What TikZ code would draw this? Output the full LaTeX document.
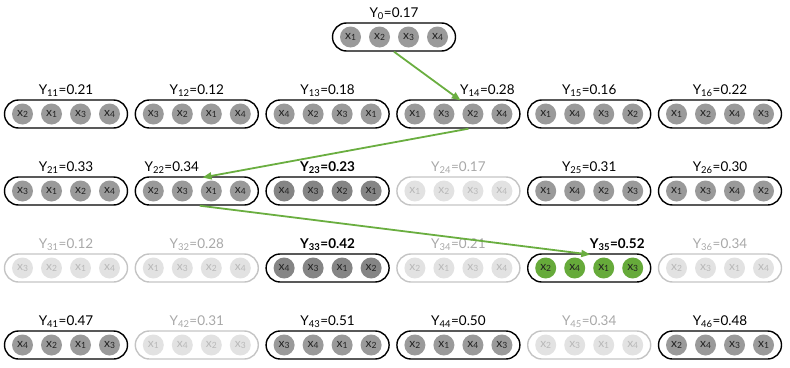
\documentclass[tikz,border=0pt]{standalone}
\usepackage{fontspec}
\setmainfont{Lato}
\usepackage{xcolor}
\usetikzlibrary{arrows.meta,positioning}

\definecolor{beaddark}{HTML}{9A9A9A}
\definecolor{beadstrong}{HTML}{858585}
\definecolor{beadfade}{HTML}{E2E2E2}
\definecolor{beadgreen}{HTML}{66AA3A}
\definecolor{inkdark}{HTML}{222222}
\definecolor{inkfade}{HTML}{B8B8B8}
\definecolor{shellfade}{HTML}{C4C4C4}
\definecolor{tagfade}{HTML}{A8A8A8}
\definecolor{jumpgreen}{HTML}{6AAE40}

\newcommand\beadtext[1]{x\raisebox{-0.2ex}{\fontsize{8.5}{9}\selectfont#1}}

\begin{document}
\begin{tikzpicture}[x=1pt,y=-1pt,
    every node/.style={font=\fontsize{13.5}{15}\selectfont},
    shell/.style={draw,rounded corners=14pt,minimum width=123pt,
      minimum height=28pt,line width=1.4pt,inner sep=0pt},
    bead/.style={circle,minimum size=21pt,inner sep=0pt,
      font=\fontsize{12}{12}\selectfont},
    shell d/.style={shell,draw=black},
    bead d/.style={bead,fill=beaddark,text=inkdark},
    tag d/.style={text=black},
    shell f/.style={shell,draw=shellfade},
    bead f/.style={bead,fill=beadfade,text=inkfade},
    tag f/.style={text=tagfade},
    shell s/.style={shell,draw=black},
    bead s/.style={bead,fill=beadstrong,text=inkdark},
    tag s/.style={font=\fontsize{13.5}{15}\selectfont\bfseries},
    shell g/.style={shell,draw=black},
    bead g/.style={bead,fill=beadgreen,text=inkdark},
    tag g/.style={font=\fontsize{13.5}{15}\selectfont\bfseries},
    jump/.style={draw=jumpgreen,line width=1.8pt,
      -{Triangle[length=9pt,width=7pt]}}]
  \useasboundingbox (0,0) rectangle (790,367);

  % ---------------- root ----------------
  \node[shell d] (cap0) at (394,37) {};
  \node[tag d] (lab0) at (394,14) {Y\textsubscript{0}=0.17};
  \foreach \k [count=\j] in {1,2,3,4}{
    \pgfmathsetmacro\xd{394-43.5+29*(\j-1)}
    \node[bead d] (x0\j) at (\xd,37) {\beadtext{\k}};
  }

  % ---------------- rows 1--4 ----------------
  \foreach \r/\c/\v/\st/\dx/\perm in {
      1/1/0.21/d/0/{2,1,3,4}, 1/2/0.12/d/0/{3,2,1,4}, 1/3/0.18/d/0/{4,2,3,1},
      1/4/0.28/d/29/{1,3,2,4}, 1/5/0.16/d/0/{1,4,3,2}, 1/6/0.22/d/0/{1,2,4,3},
      2/1/0.33/d/0/{3,1,2,4}, 2/2/0.34/d/-25/{2,3,1,4}, 2/3/0.23/s/0/{4,3,2,1},
      2/4/0.17/f/0/{1,2,3,4}, 2/5/0.31/d/0/{1,4,2,3}, 2/6/0.30/d/0/{1,3,4,2},
      3/1/0.12/f/0/{3,2,1,4}, 3/2/0.28/f/0/{1,3,2,4}, 3/3/0.42/s/0/{4,3,1,2},
      3/4/0.21/f/0/{2,1,3,4}, 3/5/0.52/g/28/{2,4,1,3}, 3/6/0.34/f/0/{2,3,1,4},
      4/1/0.47/d/0/{4,2,1,3}, 4/2/0.31/f/0/{1,4,2,3}, 4/3/0.51/d/0/{3,4,1,2},
      4/4/0.50/d/0/{2,1,4,3}, 4/5/0.34/f/0/{2,3,1,4}, 4/6/0.48/d/0/{2,4,3,1}}{
    \pgfmathsetmacro\xc{66+130.8*(\c-1)}
    \pgfmathsetmacro\yc{37+77*\r}
    \pgfmathsetmacro\xl{\xc+(\dx)}
    \node[shell \st] (cap\r\c) at (\xc,\yc) {};
    \node[tag \st] (lab\r\c) at (\xl,\yc-23) {Y\textsubscript{\r\c}=\v};
    \foreach \k [count=\j] in \perm{
      \pgfmathsetmacro\xd{\xc-43.5+29*(\j-1)}
      \node[bead \st] (x\r\c\j) at (\xd,\yc) {\beadtext{\k}};
    }
  }

  % ---------------- chosen path ----------------
  \draw[jump] (cap0.south) -- ([xshift=4pt]lab14.south west);
  \draw[jump] ([xshift=10pt]cap14.south) -- (lab22.south east);
  \draw[jump] ([xshift=3pt]cap22.south) -- ([xshift=4pt]lab35.south west);
\end{tikzpicture}
\end{document}
